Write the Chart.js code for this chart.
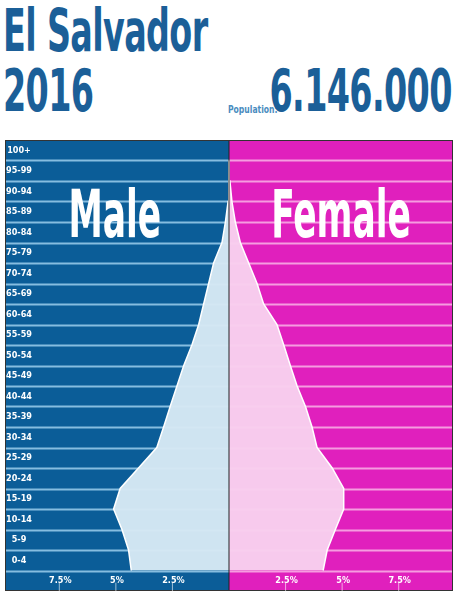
<!DOCTYPE html>
<html lang="en">
<head>
<meta charset="UTF-8">
<title>El Salvador 2016</title>
<style>
    body { margin: 0; background: #fff; width: 458px; height: 593px; position: relative; overflow: hidden; font-family: "DejaVu Sans Condensed", "DejaVu Sans", sans-serif; }
    .big { position: absolute; color: #1b5f98; font-weight: bold; font-size: 58px; line-height: 58px; transform-origin: left top; transform: scaleX(0.64); white-space: nowrap; letter-spacing: -1px; }
    #popnum { transform-origin: right top; right: 6px; }
    #pop { position: absolute; left: 228px; top: 104px; color: #4a8cc0; font-size: 10px; font-weight: bold; transform-origin: left top; transform: scaleX(0.85); }
    #box { position: absolute; left: 5px; top: 140px; width: 448px; height: 451px; }
</style>
</head>
<body>
    <div class="big" style="left:3px; top:2px;">El Salvador</div>
    <div class="big" style="left:3px; top:62px;">2016</div>
    <div id="pop">Population:</div>
    <div class="big" id="popnum" style="top:62px;">6.146.000</div>
    <div id="box"><canvas id="pyramid"></canvas></div>

    <script src="https://cdn.jsdelivr.net/npm/chart.js"></script>
    <script>
        const ageGroups = ['0-4', '5-9', '10-14', '15-19', '20-24', '25-29', '30-34', '35-39', '40-44', '45-49',
            '50-54', '55-59', '60-64', '65-69', '70-74', '75-79', '80-84', '85-89', '90-94', '95-99', '100+'];
        const malePct = [4.32, 4.44, 4.73, 5.10, 4.81, 4.00, 3.19, 2.89, 2.60, 2.30,
            2.00, 1.64, 1.34, 1.12, 0.90, 0.68, 0.31, 0.16, 0.04, 0.01, 0];
        const femalePct = [4.16, 4.34, 4.70, 5.07, 5.07, 4.56, 3.89, 3.67, 3.38, 3.01,
            2.71, 2.42, 2.12, 1.53, 1.24, 0.87, 0.50, 0.28, 0.13, 0.04, 0];
        const xTicks = [2.5, 5, 7.5];

        const blue = '#0b5d98';
        const pink = '#e020bd';

        // panels, grid, labels
        const decor = {
            id: 'decor',
            beforeDatasetsDraw(chart) {
                const { ctx, chartArea: a, scales: { x, y } } = chart;
                const cx = x.getPixelForValue(0);
                ctx.save();
                ctx.fillStyle = blue;
                ctx.fillRect(a.left, a.top, cx - a.left, a.bottom - a.top);
                ctx.fillStyle = pink;
                ctx.fillRect(cx, a.top, a.right - cx, a.bottom - a.top);
                for (let k = 0; k <= 20; k++) {
                    const py = Math.round(y.getPixelForValue(k)) + 0.5;
                    ctx.lineWidth = 2;
                    ctx.strokeStyle = '#86bde0';
                    ctx.beginPath(); ctx.moveTo(a.left, py); ctx.lineTo(cx, py); ctx.stroke();
                    ctx.strokeStyle = '#f59ce0';
                    ctx.beginPath(); ctx.moveTo(cx, py); ctx.lineTo(a.right, py); ctx.stroke();
                }
                ctx.restore();
            },
            afterDatasetsDraw(chart) {
                const { ctx, chartArea: a, scales: { x, y } } = chart;
                const cx = x.getPixelForValue(0);
                ctx.save();
                ctx.strokeStyle = '#222';
                ctx.lineWidth = 1;
                ctx.beginPath(); ctx.moveTo(cx, a.top); ctx.lineTo(cx, a.bottom); ctx.stroke();
                ctx.strokeStyle = '#333';
                ctx.strokeRect(a.left + 0.5, a.top + 0.5, a.right - a.left - 1, a.bottom - a.top - 1);

                ctx.fillStyle = '#fff';
                ctx.font = 'bold 9px "DejaVu Sans Condensed", sans-serif';
                ctx.textBaseline = 'middle';
                ctx.textAlign = 'center';
                ageGroups.forEach((g, i) => {
                    ctx.fillText(g, a.left + 14, y.getPixelForValue(i + 0.5));
                });
                const ty = y.getPixelForValue(-0.5);
                xTicks.forEach(t => {
                    [-t, t].forEach(v => {
                        const px = x.getPixelForValue(v);
                        ctx.fillText(t + '%', px + 1, ty);
                        ctx.strokeStyle = 'rgba(255,255,255,0.6)';
                        ctx.beginPath(); ctx.moveTo(px, ty + 2); ctx.lineTo(px, a.bottom); ctx.stroke();
                    });
                });

                ctx.font = 'bold 66px "DejaVu Sans Condensed", sans-serif';
                ctx.textBaseline = 'alphabetic';
                const my = y.getPixelForValue(16.25);
                [['Male', x.getPixelForValue(-5.05)], ['Female', x.getPixelForValue(4.95)]].forEach(([s, px]) => {
                    ctx.save();
                    ctx.translate(px, my);
                    ctx.scale(0.58, 1);
                    ctx.fillText(s, 0, 0);
                    ctx.restore();
                });
                ctx.restore();
            }
        };

        const toPoints = (vals, sign) => vals.map((v, i) => ({ x: sign * v, y: i }));

        new Chart(document.getElementById('pyramid'), {
            type: 'line',
            data: {
                datasets: [
                    { label: 'Male', data: toPoints(malePct, -1), borderColor: '#fff', borderWidth: 1.5,
                      backgroundColor: 'rgba(214,232,244,0.97)', fill: 'origin', pointRadius: 0, tension: 0 },
                    { label: 'Female', data: toPoints(femalePct, 1), borderColor: '#fff', borderWidth: 1.5,
                      backgroundColor: 'rgba(248,208,238,0.97)', fill: 'origin', pointRadius: 0, tension: 0 }
                ]
            },
            options: {
                indexAxis: 'y',
                responsive: true,
                maintainAspectRatio: false,
                animation: false,
                layout: { padding: 0 },
                plugins: { legend: { display: false }, tooltip: { enabled: false } },
                scales: {
                    x: { type: 'linear', min: -9.9, max: 9.9, display: false },
                    y: { type: 'linear', min: -1, max: 21, display: false }
                }
            },
            plugins: [decor]
        });
    </script>
</body>
</html>
